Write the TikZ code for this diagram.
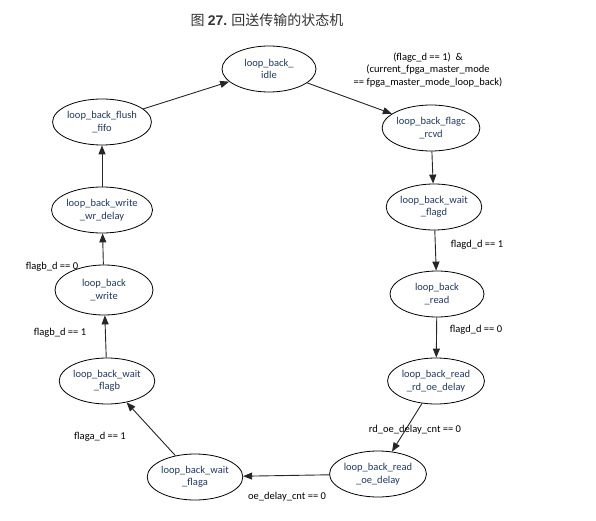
\documentclass[tikz,border=0pt]{standalone}
\usepackage{fontspec}
\setmainfont{Carlito}
\newfontfamily\cjk{Noto Sans CJK SC}
\newfontfamily\titlenum{Liberation Sans}
\usepackage{tikz}
\usetikzlibrary{arrows.meta, shapes.geometric}
\definecolor{statetext}{HTML}{1F3864}
\definecolor{titlegray}{HTML}{333333}

\begin{document}
\begin{tikzpicture}[x=1pt, y=-1pt, >={Triangle[length=9pt,width=7pt]},
  font=\fontsize{10.5}{12.5}\selectfont,
  fsm/.style={ellipse, draw, line width=0.8pt, minimum width=94pt, minimum height=46pt,
    inner sep=0pt, align=center, text=statetext},
  tr/.style={->, line width=0.9pt, draw=black!85},
  cond/.style={inner sep=1pt, align=center}]
  \useasboundingbox (0,0) rectangle (596,521);
  % Titel
  \node (title) at (267,20) {\fontsize{14}{16}\selectfont\color{titlegray}\cjk 图 {\titlenum\bfseries 27.} 回送传输的状态机};
  % Zustaende
  \node[fsm] (idle)   at (269,69)  {loop\_back\_\\idle};
  \node[fsm] (flagc)  at (431,128) {loop\_back\_flagc\\\_rcvd};
  \node[fsm] (waitd)  at (434,207) {loop\_back\_wait\\\_flagd};
  \node[fsm] (read)   at (437,294) {loop\_back\\\_read};
  \node[fsm] (rdoe)   at (436,381) {loop\_back\_read\\\_rd\_oe\_delay};
  \node[fsm] (oedel)  at (378,474) {loop\_back\_read\\\_oe\_delay};
  \node[fsm] (waita)  at (195,477) {loop\_back\_wait\\\_flaga};
  \node[fsm] (waitb)  at (107,381) {loop\_back\_wait\\\_flagb};
  \node[fsm, minimum width=98pt, minimum height=50pt] (write) at (104,290) {loop\_back\\\_write};
  \node[fsm] (wrdel)  at (102,210) {loop\_back\_write\\\_wr\_delay};
  \node[fsm] (flush)  at (102,122) {loop\_back\_flush\\\_fifo};
  % Uebergaenge
  \draw[tr] (flush) -- (idle);
  \draw[tr] (idle) -- (flagc);
  \draw[tr] (flagc) -- (waitd);
  \draw[tr] (waitd) -- (read);
  \draw[tr] (read) -- (rdoe);
  \draw[tr] (rdoe) -- (oedel);
  \draw[tr] (oedel) -- (waita);
  \draw[tr] (waita) -- (waitb);
  \draw[tr] (waitb) -- (write);
  \draw[tr] (write) -- (wrdel);
  \draw[tr] (wrdel) -- (flush);
  % Bedingungen
  \node[cond] (c1) at (428,70) {(flagc\_d == 1)~~\&\\(current\_fpga\_master\_mode\\== fpga\_master\_mode\_loop\_back)};
  \node[cond] (c2) at (477,245) {flagd\_d == 1};
  \node[cond] (c3) at (476,330) {flagd\_d == 0};
  \node[cond] (c4) at (415,430) {rd\_oe\_delay\_cnt == 0};
  \node[cond] (c5) at (287,497) {oe\_delay\_cnt == 0};
  \node[cond] (c6) at (100,437) {flaga\_d == 1};
  \node[cond] (c7) at (60,333)  {flagb\_d == 1};
  \node[cond] (c8) at (52,267)  {flagb\_d == 0};
\end{tikzpicture}
\end{document}
